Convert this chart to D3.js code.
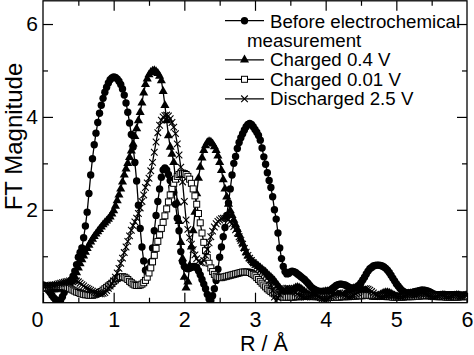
<!DOCTYPE html>
<html><head><meta charset="utf-8">
<script src="https://cdn.jsdelivr.net/npm/d3@7"></script>
<style>
body{margin:0;background:#fff}
svg{display:block}
text{font-family:"Liberation Sans",Arial,sans-serif;fill:#000}
</style>
</head><body>
<svg id="c" width="474" height="355"></svg>
<script>
// R grid step (Å); values every 0.025 Å from 0 to 6
const rStep = 0.025;

const before = [
0.38,0.36,0.32,0.27,0.22,0.16,0.11,0.07,0.04,0.03,0.06,0.13,0.22,0.30,0.37,0.43,0.49,0.57,0.68,0.82,
0.98,1.08,1.18,1.40,1.65,1.95,2.35,2.75,3.10,3.40,3.65,3.88,4.08,4.25,4.40,4.53,4.64,4.73,4.80,4.84,
4.86,4.85,4.82,4.77,4.70,4.60,4.47,4.30,4.10,3.87,3.62,3.35,3.02,2.62,2.10,1.60,1.20,0.90,0.70,0.68,
0.74,0.88,1.18,1.55,1.88,2.18,2.45,2.70,2.86,2.90,2.86,2.76,2.63,2.50,2.38,2.12,1.82,1.55,1.10,0.88,
0.78,0.74,0.73,0.74,0.76,0.78,0.78,0.75,0.69,0.60,0.50,0.40,0.30,0.18,0.08,0.05,0.15,0.30,0.48,0.72,
0.98,1.20,1.42,1.62,1.88,2.15,2.45,2.75,3.00,3.15,3.32,3.45,3.55,3.64,3.72,3.79,3.84,3.86,3.84,3.79,
3.73,3.67,3.60,3.50,3.33,3.14,2.98,2.80,2.63,2.48,2.28,2.00,1.80,1.50,1.18,0.95,0.78,0.67,0.62,0.63,
0.66,0.68,0.67,0.65,0.62,0.59,0.56,0.53,0.50,0.46,0.42,0.37,0.33,0.30,0.28,0.26,0.25,0.24,0.24,0.24,
0.24,0.25,0.26,0.28,0.31,0.34,0.37,0.39,0.40,0.40,0.39,0.38,0.36,0.34,0.32,0.31,0.31,0.32,0.34,0.38,
0.43,0.49,0.55,0.62,0.68,0.73,0.76,0.79,0.80,0.81,0.81,0.80,0.79,0.77,0.74,0.70,0.65,0.59,0.53,0.47,
0.41,0.36,0.31,0.27,0.24,0.22,0.21,0.21,0.21,0.22,0.23,0.24,0.25,0.26,0.27,0.27,0.27,0.26,0.25,0.23,
0.21,0.19,0.18,0.17,0.17,0.17,0.17,0.17,0.17,0.17,0.17,0.17,0.17,0.17,0.17,0.17,0.16,0.16,0.16,0.16,
0.16];

const charged04 = [
0.35,0.33,0.31,0.30,0.29,0.28,0.28,0.28,0.29,0.30,0.32,0.34,0.36,0.38,0.40,0.42,0.45,0.49,0.56,0.65,
0.75,0.84,0.93,1.01,1.09,1.17,1.24,1.31,1.37,1.43,1.48,1.53,1.58,1.63,1.68,1.72,1.76,1.80,1.85,1.91,
1.98,2.08,2.20,2.32,2.45,2.60,2.75,2.88,3.00,3.13,3.27,3.42,3.58,3.75,3.92,4.10,4.30,4.52,4.70,4.82,
4.91,4.96,4.99,5.00,4.98,4.94,4.88,4.78,4.55,4.25,3.92,3.60,3.35,3.20,3.02,2.65,2.15,1.75,1.30,0.95,
0.55,0.32,0.45,0.80,1.20,1.55,1.95,2.35,2.68,2.92,3.12,3.28,3.38,3.45,3.47,3.46,3.42,3.36,3.28,3.16,
3.02,2.85,2.65,2.45,2.28,2.12,1.98,1.88,1.78,1.68,1.58,1.47,1.37,1.27,1.17,1.08,1.01,0.95,0.91,0.87,
0.84,0.81,0.78,0.75,0.72,0.69,0.66,0.62,0.58,0.55,0.51,0.47,0.42,0.37,0.32,0.27,0.23,0.20,0.19,0.20,
0.23,0.27,0.30,0.32,0.33,0.32,0.30,0.27,0.24,0.21,0.18,0.16,0.15,0.15,0.15,0.16,0.18,0.20,0.22,0.23,
0.24,0.24,0.23,0.21,0.18,0.15,0.13,0.12,0.12,0.13,0.15,0.18,0.21,0.24,0.27,0.29,0.31,0.32,0.32,0.31,
0.29,0.27,0.24,0.21,0.18,0.15,0.13,0.12,0.12,0.13,0.15,0.17,0.19,0.21,0.22,0.22,0.21,0.19,0.17,0.15,
0.13,0.12,0.12,0.13,0.14,0.16,0.18,0.19,0.20,0.20,0.20,0.21,0.22,0.23,0.24,0.24,0.23,0.21,0.19,0.17,
0.15,0.14,0.13,0.13,0.14,0.15,0.16,0.16,0.15,0.14,0.13,0.13,0.14,0.15,0.16,0.16,0.15,0.14,0.14,0.15,
0.16];

const charged001 = [
0.31,0.32,0.33,0.34,0.35,0.35,0.36,0.36,0.36,0.36,0.36,0.35,0.35,0.34,0.33,0.31,0.29,0.27,0.25,0.23,
0.22,0.20,0.19,0.18,0.17,0.17,0.16,0.16,0.16,0.17,0.18,0.20,0.22,0.24,0.27,0.30,0.33,0.36,0.39,0.42,
0.46,0.49,0.52,0.54,0.55,0.56,0.55,0.53,0.50,0.46,0.43,0.40,0.38,0.37,0.37,0.38,0.40,0.43,0.48,0.55,
0.64,0.75,0.88,1.02,1.17,1.32,1.46,1.60,1.73,1.87,2.02,2.17,2.32,2.46,2.57,2.66,2.72,2.76,2.78,2.79,
2.78,2.76,2.72,2.66,2.57,2.45,2.30,2.12,1.92,1.72,1.50,1.30,1.12,0.97,0.85,0.75,0.67,0.61,0.57,0.55,
0.54,0.54,0.55,0.56,0.57,0.58,0.59,0.60,0.61,0.62,0.63,0.64,0.65,0.66,0.66,0.66,0.66,0.65,0.63,0.61,
0.58,0.54,0.50,0.46,0.42,0.38,0.34,0.30,0.27,0.24,0.21,0.19,0.17,0.15,0.14,0.13,0.12,0.12,0.12,0.12,
0.12,0.12,0.12,0.13,0.13,0.13,0.13,0.14,0.14,0.14,0.14,0.14,0.14,0.13,0.13,0.13,0.13,0.12,0.12,0.12,
0.12,0.12,0.12,0.12,0.12,0.12,0.12,0.12,0.12,0.13,0.13,0.13,0.13,0.13,0.14,0.14,0.14,0.14,0.15,0.15,
0.15,0.15,0.16,0.16,0.16,0.16,0.16,0.16,0.15,0.15,0.15,0.14,0.14,0.14,0.14,0.13,0.13,0.13,0.12,0.12,
0.12,0.12,0.12,0.12,0.12,0.13,0.13,0.13,0.13,0.13,0.14,0.14,0.14,0.14,0.15,0.15,0.15,0.15,0.15,0.15,
0.14,0.14,0.14,0.13,0.13,0.13,0.13,0.13,0.12,0.12,0.12,0.12,0.12,0.12,0.12,0.12,0.13,0.13,0.13,0.13,
0.13];

const discharged25 = [
0.37,0.37,0.37,0.37,0.37,0.38,0.38,0.39,0.40,0.41,0.42,0.43,0.44,0.45,0.46,0.47,0.47,0.48,0.48,0.47,
0.45,0.42,0.39,0.36,0.33,0.31,0.29,0.27,0.25,0.23,0.21,0.20,0.19,0.19,0.20,0.22,0.26,0.31,0.36,0.41,
0.47,0.55,0.64,0.74,0.85,0.96,1.08,1.20,1.32,1.44,1.56,1.66,1.74,1.82,1.92,2.04,2.18,2.32,2.48,2.58,
2.68,2.84,3.02,3.24,3.46,3.66,3.82,3.93,4.00,4.03,4.04,4.02,3.96,3.88,3.78,3.64,3.42,3.18,2.92,2.60,
2.18,1.78,1.58,1.40,1.26,1.14,1.03,0.95,0.89,0.86,0.86,0.91,1.02,1.15,1.29,1.42,1.54,1.63,1.70,1.75,
1.78,1.81,1.82,1.82,1.81,1.79,1.75,1.70,1.64,1.57,1.50,1.42,1.34,1.26,1.17,1.09,1.02,0.96,0.91,0.86,
0.82,0.78,0.74,0.70,0.66,0.62,0.58,0.53,0.47,0.38,0.26,0.12,0.04,0.10,0.18,0.24,0.28,0.30,0.31,0.31,
0.30,0.28,0.25,0.22,0.19,0.16,0.14,0.13,0.12,0.12,0.13,0.14,0.15,0.16,0.16,0.15,0.13,0.11,0.09,0.08,
0.08,0.09,0.11,0.13,0.16,0.18,0.20,0.21,0.21,0.20,0.18,0.16,0.14,0.13,0.13,0.14,0.16,0.19,0.22,0.25,
0.27,0.29,0.30,0.30,0.29,0.27,0.24,0.21,0.18,0.16,0.14,0.13,0.13,0.14,0.15,0.16,0.17,0.17,0.16,0.15,
0.14,0.13,0.13,0.13,0.14,0.15,0.16,0.17,0.17,0.17,0.17,0.17,0.18,0.19,0.20,0.20,0.19,0.18,0.16,0.15,
0.14,0.13,0.13,0.14,0.15,0.16,0.16,0.15,0.14,0.13,0.13,0.14,0.15,0.16,0.16,0.15,0.14,0.14,0.15,0.16,
0.17];

const xTickValues = [0, 1, 2, 3, 4, 5, 6];
const xMinorValues = [0.5, 1.5, 2.5, 3.5, 4.5, 5.5];
const yTickValues = [2, 4, 6];
const yMinorValues = [1, 3, 5];
const seriesNames = ["Before electrochemical", "Charged 0.4 V", "Charged 0.01 V", "Discharged 2.5 V"];
const xTitle = "R / Å";
const yTitle = "FT Magnitude";

const R = before.map((_, i) => +(i * rStep).toFixed(3));

const svg = d3.select("#c");
const X0 = 43, X1 = 467, Y0 = 302.7, Y1 = 0.8;
const x = d3.scaleLinear().domain([0, 6]).range([X0, X1]);
const y = d3.scaleLinear().domain([0, 6.5]).range([Y0, Y1]);

// clip
svg.append("defs").append("clipPath").attr("id", "clip")
  .append("rect").attr("x", X0).attr("y", Y1).attr("width", X1 - X0).attr("height", Y0 - Y1);

// axes
function styleAxis(g) {
  g.select(".domain").remove();
  g.selectAll(".tick line").attr("stroke", "#000").attr("stroke-width", 1.2);
}
const bottom = svg.append("g").attr("transform", `translate(0,${Y0})`)
  .call(d3.axisBottom(x).tickValues(xTickValues).tickSize(-10).tickPadding(9).tickFormat(d3.format("d")))
  .call(styleAxis);
bottom.selectAll("text").attr("font-size", 21.5).attr("font-family", '"Liberation Sans",Arial,sans-serif').attr("fill", "#000");
bottom.selectAll(".tick").filter(d => d === 0).select("text").attr("x", -6);
svg.append("g").attr("transform", `translate(0,${Y0})`)
  .call(d3.axisBottom(x).tickValues(xMinorValues).tickSize(-5).tickFormat(""))
  .call(styleAxis);
svg.append("g").attr("transform", `translate(0,${Y1})`)
  .call(d3.axisTop(x).tickValues(xTickValues.slice(1, -1)).tickSize(-10).tickFormat(""))
  .call(styleAxis);
svg.append("g").attr("transform", `translate(0,${Y1})`)
  .call(d3.axisTop(x).tickValues(xMinorValues).tickSize(-5).tickFormat(""))
  .call(styleAxis);

const left = svg.append("g").attr("transform", `translate(${X0},0)`)
  .call(d3.axisLeft(y).tickValues(yTickValues).tickSize(-10).tickPadding(5).tickFormat(d3.format("d")))
  .call(styleAxis);
left.selectAll("text").attr("font-size", 21).attr("font-family", '"Liberation Sans",Arial,sans-serif').attr("fill", "#000");
svg.append("g").attr("transform", `translate(${X0},0)`)
  .call(d3.axisLeft(y).tickValues(yMinorValues).tickSize(-5).tickFormat(""))
  .call(styleAxis);
svg.append("g").attr("transform", `translate(${X1},0)`)
  .call(d3.axisRight(y).tickValues(yTickValues).tickSize(-10).tickFormat(""))
  .call(styleAxis);
svg.append("g").attr("transform", `translate(${X1},0)`)
  .call(d3.axisRight(y).tickValues(yMinorValues).tickSize(-5).tickFormat(""))
  .call(styleAxis);

// frame
svg.append("rect").attr("x", X0).attr("y", Y1).attr("width", X1 - X0).attr("height", Y0 - Y1)
  .attr("fill", "none").attr("stroke", "#000").attr("stroke-width", 1.3);

// titles
svg.append("text").attr("x", 264).attr("y", 350.5).attr("text-anchor", "middle")
  .attr("font-size", 21.5).text(xTitle);
svg.append("text").attr("transform", "translate(22,136.5) rotate(-90)").attr("text-anchor", "middle")
  .attr("font-size", 24).text(yTitle);

// series
const series = [
  {name: seriesNames[0], values: before, marker: "circle"},
  {name: seriesNames[1], values: charged04, marker: "triangle"},
  {name: seriesNames[2], values: charged001, marker: "square"},
  {name: seriesNames[3], values: discharged25, marker: "cross"}
];
const triPath = d3.symbol().type(d3.symbolTriangle).size(36)();
function drawMarker(sel, type) {
  if (type === "circle") {
    sel.append("circle").attr("r", 3.7).attr("fill", "#000");
  } else if (type === "triangle") {
    sel.append("path").attr("d", triPath).attr("fill", "#000");
  } else if (type === "square") {
    sel.append("rect").attr("x", -3).attr("y", -3).attr("width", 6).attr("height", 6)
      .attr("fill", "#fff").attr("stroke", "#000").attr("stroke-width", 1);
  } else {
    sel.append("path").attr("d", "M-3.3,-3.3L3.3,3.3M-3.3,3.3L3.3,-3.3")
      .attr("stroke", "#000").attr("stroke-width", 1.1).attr("fill", "none");
  }
}
const plot = svg.append("g").attr("clip-path", "url(#clip)");
const line = d3.line().x((d, i) => x(R[i])).y(d => y(d));
series.forEach(s => {
  const g = plot.append("g");
  g.append("path").attr("d", line(s.values)).attr("fill", "none")
    .attr("stroke", "#000").attr("stroke-width", 1.3);
  g.selectAll("g.m").data(s.values).enter().append("g").attr("class", "m")
    .attr("transform", (d, i) => `translate(${x(R[i])},${y(d)})`)
    .each(function() { drawMarker(d3.select(this), s.marker); });
});

// legend
const legRows = [20.7, 59.8, 79.3, 98.8];
const legBase = [27.7, 66.4, 85.9, 105.4];
const leg = svg.append("g");
series.forEach((s, k) => {
  leg.append("line").attr("x1", 225).attr("x2", 264).attr("y1", legRows[k]).attr("y2", legRows[k])
    .attr("stroke", "#000").attr("stroke-width", 1.2);
  const mg = leg.append("g").attr("transform", `translate(244.5,${legRows[k]})`);
  drawMarker(mg, s.marker);
  leg.append("text").attr("x", 270).attr("y", legBase[k]).attr("font-size", 18.7).text(s.name);
});
leg.append("text").attr("x", 247).attr("y", 46.7).attr("font-size", 18.7).text("measurement");
</script>
</body></html>
